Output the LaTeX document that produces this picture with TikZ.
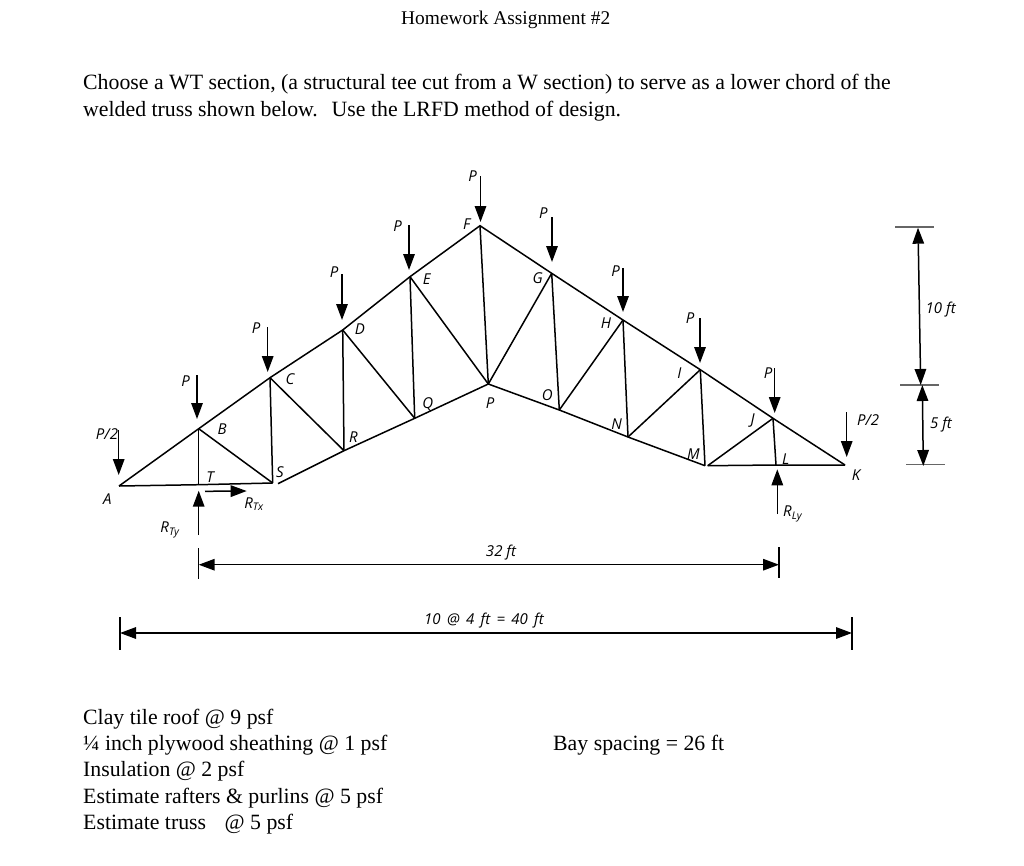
\documentclass[tikz,border=0pt]{standalone}
\usepackage{fontspec}
\setmainfont{Liberation Serif}
\newfontfamily\labelfont{Open Sans}
\usetikzlibrary{arrows.meta}
\usetikzlibrary{calc}

\begin{document}
\begin{tikzpicture}[x=1pt,y=-1pt,>={Triangle[length=16pt,width=11.5pt]},
                    member/.style={line width=1.5pt},
                    load/.style={->,line width=1.5pt},
                    dim/.style={<->,line width=1.5pt},
                    tick/.style={line width=1.2pt},
                    body text/.style={anchor=base west,inner sep=0pt,font=\fontsize{21.8}{24}\selectfont},
                    lbl/.style={inner sep=0pt,font=\labelfont\itshape\fontsize{15}{17}\selectfont}]

  \useasboundingbox (0,0) rectangle (1024,865);

  % joints
  \foreach \name/\px/\py in {A/119/486,B/198.7/428.7,C/270/377.7,D/342.7/330,E/410/276.7,
      F/480/225.7,G/551.7/273.3,H/623/320,I/700.3/369.7,J/773/418.3,K/845/465,
      T/198.7/484.7,S/272.7/483,Sb/278/483.7,R/344/450.7,Q/414.7/418.3,Pc/488.3/384,
      O/559.3/410,N/628/437,M/705/465.7,Mb/707.7/465.7,L/776/465}
    \coordinate (\name) at (\px,\py);

  % truss members
  \draw[member] (A) -- (B) -- (C) -- (D) -- (E) -- (F) -- (G) -- (H) -- (I) -- (J) -- (K);
  \draw[member] (A) -- (T) -- (S);
  \draw[member] (Sb) -- (R) -- (Q) -- (Pc) -- (O) -- (N) -- (M);
  \draw[member] (Mb) -- (L) -- (K);
  \foreach \from/\to in {B/T,C/S,D/R,E/Q,F/Pc,G/O,H/N,I/M,J/L,B/S,C/R,D/Q,E/Pc,G/Pc,H/O,I/N,J/Mb}
    \draw[member] (\from) -- (\to);

  % loads
  \foreach \name/\px/\ya/\yb in {a/118.7/430/475,b/197/375/419,c/267.7/327/372,d/342/274/320,
      e/409/225/270,f/480.5/176/222,g/552/217/262,h/623/268/312,i/700/318/363,j/774.7/368/413,k/846.7/412/457}{
    \coordinate (load \name) at (\px,\ya);
    \coordinate (tip \name) at (\px,\yb);
    \draw[load] (load \name) -- (tip \name);
  }

  % reactions
  \coordinate (rty a) at (198.7,535);
  \coordinate (rty b) at (198.7,490.7);
  \coordinate (rtx a) at (205,491.3);
  \coordinate (rtx b) at (246.7,491);
  \coordinate (rly a) at (777.3,514);
  \coordinate (rly b) at (777.3,469.3);
  \draw[load] (rty a) -- (rty b);
  \draw[load] (rtx a) -- (rtx b);
  \draw[load] (rly a) -- (rly b);

  % dimensions
  \coordinate (d32 top l) at (198.7,548);
  \coordinate (d32 bot l) at (198.7,579);
  \coordinate (d32 top r) at (779,547);
  \coordinate (d32 bot r) at (779,578);
  \coordinate (d32 l) at (198.7,564.7);
  \coordinate (d32 r) at (779,564.7);
  \draw[tick] (d32 top l) -- (d32 bot l);
  \draw[tick] (d32 top r) -- (d32 bot r);
  \draw[dim] (d32 l) -- (d32 r);

  \coordinate (d40 top l) at (120,617);
  \coordinate (d40 bot l) at (120,650);
  \coordinate (d40 top r) at (852,617);
  \coordinate (d40 bot r) at (852,650);
  \coordinate (d40 l) at (120,633);
  \coordinate (d40 r) at (852,633);
  \draw[tick] (d40 top l) -- (d40 bot l);
  \draw[tick] (d40 top r) -- (d40 bot r);
  \draw[dim] (d40 l) -- (d40 r);

  \coordinate (v1 a) at (895,227);
  \coordinate (v1 b) at (934,227);
  \coordinate (v2 a) at (900,385);
  \coordinate (v2 b) at (939,385);
  \coordinate (v3 a) at (906,464.3);
  \coordinate (v3 b) at (945,464.3);
  \draw[tick,gray!80!black] (v1 a) -- (v1 b);
  \draw[tick,gray!80!black] (v2 a) -- (v2 b);
  \draw[tick,gray!80!black] (v3 a) -- (v3 b);
  \coordinate (v10 a) at (918,227.7);
  \coordinate (v10 b) at (920.7,385);
  \coordinate (v5 a) at (922.3,385);
  \coordinate (v5 b) at (923.3,466);
  \draw[dim] (v10 a) -- (v10 b);
  \draw[dim] (v5 a) -- (v5 b);

  % labels
  \node[lbl] (lbl pa) at (107,434) {P/2};
  \node[lbl] (lbl pk) at (868,420) {P/2};
  \foreach \name/\px/\py in {b/185.7/381,c/256/328,d/334/272,e/397.7/226,f/472.7/176,
      g/543.3/213,h/615.7/271,i/690/318,j/768/373,c0/490/403}
    \node[lbl] (lbl p\name) at (\px,\py) {P};
  \foreach \name/\px/\py in {A/107.3/499,B/222/428.7,C/290/379.3,D/360/329,E/426.7/279,F/466.7/224,
      G/537.7/277.7,H/606/323,I/679.3/373.3,J/752.7/421,K/856/475,L/785.7/458.7,M/693.3/454,
      N/616.7/424,O/547.3/395,Q/427.7/404.3,R/353.3/436.7,S/280/471.7,T/210/477.3}
    \node[lbl] (lbl \name) at (\px,\py) {\name};
  \node[lbl] (lbl rtx) at (254,504) {R\textsubscript{Tx}};
  \node[lbl] (lbl rty) at (170,530) {R\textsubscript{Ty}};
  \node[lbl] (lbl rly) at (792.7,514) {R\textsubscript{Ly}};
  \node[lbl] (lbl 32) at (501,553) {32 ft};
  \node[lbl] (lbl 40) at (484,621) {\spaceskip=0.42em 10 @ 4 ft = 40 ft};
  \node[lbl] (lbl 10) at (940.7,310) {10 ft};
  \node[lbl] (lbl 5) at (941,425) {5 ft};

  % text
  \node[body text,font=\fontsize{19.4}{22}\selectfont] (title) at (401,24.5) {Homework Assignment \#2};
  \node[body text] (line1) at (83,89) {Choose a WT section, (a structural tee cut from a W section) to serve as a lower chord of the};
  \node[body text] (line2) at (83,116) {welded truss shown below.\hspace{0.3em} Use the LRFD method of design.};
  \node[body text] (item1) at (83,724) {Clay tile roof @ 9 psf};
  \node[body text] (item2) at (83,750) {¼ inch plywood sheathing @ 1 psf};
  \node[body text] (item3) at (83,776) {Insulation @ 2 psf};
  \node[body text] (item4) at (83,803) {Estimate rafters \& purlins @ 5 psf};
  \node[body text] (item5) at (83,829) {Estimate truss\hspace{0.6em} @ 5 psf};
  \node[body text] (bay) at (553,750) {Bay spacing = 26 ft};

\end{tikzpicture}
\end{document}
